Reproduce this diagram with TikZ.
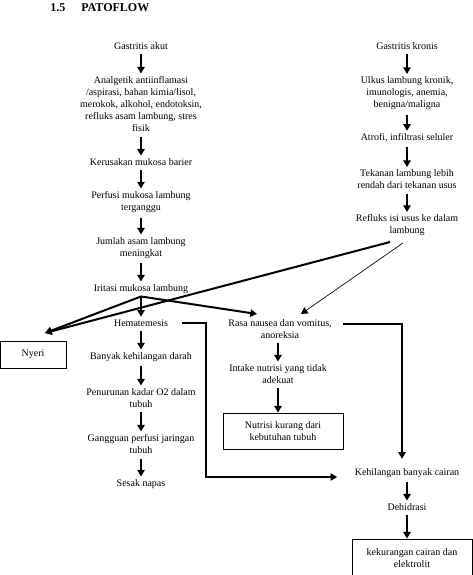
\documentclass[tikz,border=0pt]{standalone}
\usepackage{fontspec}
\setmainfont{Liberation Serif}
\usetikzlibrary{arrows.meta,calc}
\begin{document}
\begin{tikzpicture}[x=0.75pt,y=-0.75pt,
  txt/.style={align=center,inner sep=2pt,font=\fontsize{7.5}{9}\selectfont},
  boxed/.style={txt,draw,line width=0.6pt},
  arr/.style={line width=1.5pt,-{Triangle[width=5.5pt,length=5pt]},shorten <=1.5pt},
  arrfree/.style={line width=1.5pt,-{Triangle[width=5.5pt,length=5pt]}},
  thinarr/.style={line width=0.5pt,-{Triangle[width=5.5pt,length=5pt]}},
  elbarr/.style={line width=1pt,-{Triangle[width=5.5pt,length=5pt]}}]
\useasboundingbox (0,0) rectangle (473,575);

% title
\node[anchor=base west,inner sep=0,font=\bfseries\fontsize{9}{11}\selectfont] (title) at (50,11) {1.5\hspace{12pt}PATOFLOW};

% left column
\node[txt] (ga)  at (141,46)  {Gastritis akut};
\node[txt] (an)  at (141,104) {Analgetik antiinflamasi\\/aspirasi, bahan kimia/lisol,\\merokok, alkohol, endotoksin,\\refluks asam lambung, stres\\fisik};
\node[txt] (ker) at (141,162) {Kerusakan mukosa barier};
\node[txt] (per) at (141,202) {Perfusi mukosa lambung\\terganggu};
\node[txt] (jum) at (141,248) {Jumlah asam lambung\\meningkat};
\node[txt] (iri) at (141,289) {Iritasi mukosa lambung};
\node[txt] (hem) at (141,323) {Hematemesis};
\node[txt] (ban) at (141,357) {Banyak kehilangan darah};
\node[txt] (pen) at (141,398) {Penurunan kadar O2 dalam\\tubuh};
\node[txt] (gan) at (141,444) {Gangguan perfusi jaringan\\tubuh};
\node[txt] (ses) at (141,484) {Sesak napas};
\node[boxed,minimum width=49.5pt,minimum height=20.25pt] (ny) at (33,354.5) {Nyeri};

% right column
\node[txt] (gk)  at (407,46)  {Gastritis kronis};
\node[txt] (ul)  at (407,93.5) {Ulkus lambung kronik,\\imunologis, anemia,\\benigna/maligna};
\node[txt] (at)  at (407,138) {Atrofi, infiltrasi seluler};
\node[txt] (tek) at (407,179.5) {Tekanan lambung lebih\\rendah dari tekanan usus};
\node[txt] (ref) at (407,225.5) {Refluks isi usus ke dalam\\lambung};

% middle
\node[txt] (ras) at (280,329) {Rasa nausea dan vomitus,\\anoreksia};
\node[txt] (int) at (278,374) {Intake nutrisi yang tidak\\adekuat};
\node[boxed,minimum width=90pt,minimum height=27pt] (nut) at (283,431) {Nutrisi kurang dari\\kebutuhan tubuh};
\node[txt] (kb)  at (407,473) {Kehilangan banyak cairan};
\node[txt] (deh) at (407,507) {Dehidrasi};
\node[boxed,minimum width=90pt,minimum height=28.5pt] (kc) at (412,558) {kekurangan cairan dan\\elektrolit};

% helper coordinates
\coordinate (nyin) at (45,333);
\coordinate (rasin1) at (257,314);
\coordinate (rasin2) at (301,314);
\coordinate (refo1) at (390,242);
\coordinate (refo2) at (403,243);
\coordinate (h2) at (206,477);
\coordinate (r1) at (402,324);

% left chain
\draw[arr] (ga) -- (an);
\draw[arr] (an) -- (ker);
\draw[arr] (ker) -- (per);
\draw[arr] (per) -- (jum);
\draw[arr] (jum) -- (iri);
\draw[arrfree] (iri.south) -- (hem);
\draw[arrfree] (iri.south) -- (nyin);
\draw[arrfree] (iri.south) -- (rasin1);
\draw[arr] (hem) -- (ban);
\draw[arr] (ban) -- (pen);
\draw[arr] (pen) -- (gan);
\draw[arr] (gan) -- (ses);

% right chain
\draw[arr] (gk) -- (ul);
\draw[arr] (ul) -- (at);
\draw[arr] (at) -- (tek);
\draw[arr] (tek) -- (ref);
\draw[arrfree] (refo1) -- (nyin);
\draw[thinarr] (refo2) -- (rasin2);

% middle chain
\draw[arr] (ras.south -| int) -- (int);
\draw[arr] (int) -- (int |- nut.north);
\draw[arr] (kb) -- (deh);
\draw[arr] (deh) -- (deh |- kc.north);

% elbows
\draw[elbarr,shorten <=8pt,shorten >=11pt] (hem.east) -| (h2) -- (h2 -| kb.west);
\draw[elbarr,shorten <=6pt,shorten >=5pt] (ras.east |- r1) -- (r1) -- (r1 |- kb.north);
\end{tikzpicture}
\end{document}
